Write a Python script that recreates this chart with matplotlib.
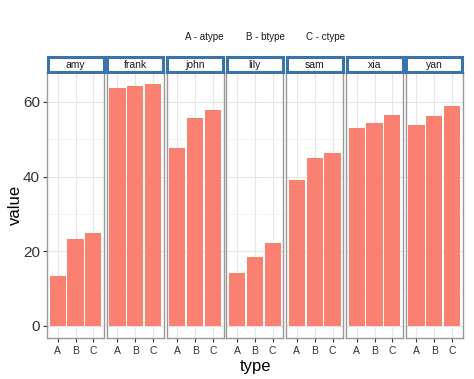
import matplotlib.pyplot as plt
import numpy as np

plt.rcParams['font.family'] = ['Liberation Sans', 'DejaVu Sans']

# data
names = ['amy', 'frank', 'john', 'lily', 'sam', 'xia', 'yan']
types = ['A', 'B', 'C']
values = {
    'amy':   [13.3, 23.3, 25.0],
    'frank': [63.7, 64.3, 64.8],
    'john':  [47.6, 55.7, 57.8],
    'lily':  [14.1, 18.4, 22.3],
    'sam':   [39.2, 45.1, 46.3],
    'xia':   [53.1, 54.4, 56.5],
    'yan':   [53.9, 56.2, 58.9],
}
legend_labels = ['A - atype', 'B - btype', 'C - ctype']

W, H = 474, 379
fig = plt.figure(figsize=(W / 100, H / 100), dpi=100)

bar_col = '#FA8072'
strip_col = '#3A74A8'
left0, pw, gap = 47, 57, 2.8
ptop, pbot = 72, 338
stop = 57

ymin, ymax = -3.24, 68.0
x = np.arange(1, 4)

for i, name in enumerate(names):
    l = left0 + i * (pw + gap)
    ax = fig.add_axes([l / W, 1 - pbot / H, pw / W, (pbot - ptop) / H])
    ax.set_xlim(0.4, 3.6)
    ax.set_ylim(ymin, ymax)
    ax.set_yticks([0, 20, 40, 60])
    ax.set_yticks([10, 30, 50], minor=True)
    ax.set_xticks(x)
    ax.set_xticklabels(types, fontsize=7.5, color='#333333')
    ax.grid(True, which='major', color='#E6E6E6', lw=0.8)
    ax.grid(True, which='minor', axis='y', color='#F2F2F2', lw=0.6)
    ax.set_axisbelow(True)
    ax.bar(x, values[name], width=0.9, color=bar_col, zorder=2)
    for s in ax.spines.values():
        s.set_color('#999999')
        s.set_linewidth(1.0)
    ax.tick_params(axis='x', length=3, width=0.8, color='#333333', pad=3)
    ax.tick_params(which='minor', length=0)
    if i == 0:
        ax.tick_params(axis='y', length=3, width=0.8, color='#333333',
                       labelsize=11, labelcolor='#333333', pad=2)
    else:
        ax.tick_params(axis='y', length=0, labelleft=False)

    sx = fig.add_axes([(l + 0.5) / W, 1 - ptop / H, (pw - 1) / W, (ptop - stop) / H])
    sx.set_xticks([])
    sx.set_yticks([])
    sx.set_facecolor('white')
    for s in sx.spines.values():
        s.set_color(strip_col)
        s.set_linewidth(2.2)
    sx.text(0.5, 0.45, name, ha='center', va='center', fontsize=7.5, color='#1A1A1A',
            transform=sx.transAxes)

fig.text(15 / W, 1 - 205 / H, 'value', rotation=90, ha='center', va='center', fontsize=12)
fig.text(255 / W, 1 - 366 / H, 'type', ha='center', va='center', fontsize=12)

leg_x = [204, 265, 325]
for lx, lab in zip(leg_x, legend_labels):
    fig.text(lx / W, 1 - 37 / H, lab, ha='center', va='center', fontsize=7, color='#1A1A1A')

fig.savefig('out.png', dpi=100)
